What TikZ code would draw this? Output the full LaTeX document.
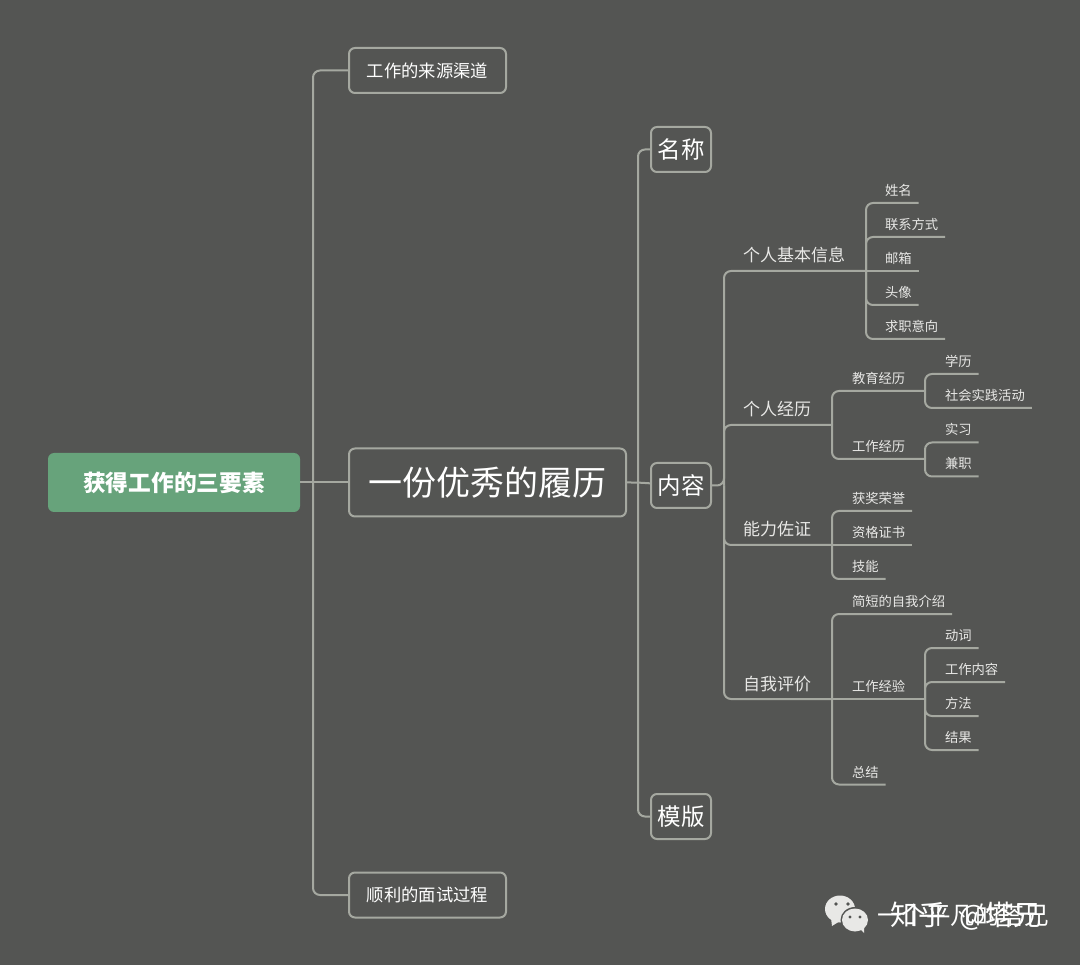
\documentclass[tikz,border=0pt]{standalone}
\usepackage{fontspec}
\setmainfont{Noto Sans CJK SC}
\usepackage{tikz}
\usetikzlibrary{positioning}

\definecolor{bgcolor}{RGB}{84,85,83}
\definecolor{linecolor}{RGB}{165,168,160}
\definecolor{rootgreen}{RGB}{103,163,123}
\definecolor{textcolor}{RGB}{232,232,230}

\begin{document}
\begin{tikzpicture}[
  x=1pt, y=-1pt,
  root/.style={rectangle, rounded corners=6pt, fill=rootgreen, text=white, minimum width=252pt, minimum height=59pt, outer sep=0pt, font=\fontsize{22.7}{26}\selectfont\bfseries},
  topic/.style={rectangle, rounded corners=6pt, draw=linecolor, line width=2pt, text=white, minimum width=157pt, minimum height=45pt, inner sep=0pt, outer sep=0pt, font=\fontsize{17.3}{20}\selectfont},
  part/.style={topic, minimum width=60pt, font=\fontsize{23.5}{27}\selectfont},
  branch/.style={rectangle, anchor=south west, inner xsep=7pt, inner ysep=6pt, outer sep=0pt, text height=14pt, text depth=3pt, text=textcolor, font=\fontsize{17}{20}\selectfont},
  leaf/.style={rectangle, anchor=south west, inner xsep=7pt, inner ysep=5.5pt, outer sep=0pt, text height=11pt, text depth=2pt, text=textcolor, font=\fontsize{13.3}{16}\selectfont},
  nextleaf/.style={leaf, below=10pt of #1.south west, anchor=north west},
  link/.style={draw=linecolor, line width=2pt, rounded corners=7pt}
  ]
  \fill[bgcolor] (0,0) rectangle (1080,965);

  % Main row: root, resume and content
  \node[root] (root) at (174,482.5) {获得工作的三要素};
  \node[topic, minimum width=277pt, minimum height=68pt, font=\fontsize{34}{40}\selectfont, right=49pt of root] (resume) {一份优秀的履历};
  \node[part, right=25pt of resume, yshift=-3pt] (content) {内容};
  \node[topic, above right=355.5pt and 0pt of resume.north west] (source) {工作的来源渠道};
  \node[topic, below right=356pt and 0pt of resume.south west] (interview) {顺利的面试过程};
  \node[part, above=291pt of content] (title) {名称};
  \node[part, below=286pt of content] (template) {模版};
  \coordinate[right=13pt of root.east] (mainhub);
  \coordinate[right=12pt of resume.east] (resumehub);
  \coordinate[right=13pt of content.east] (contenthub);
  \draw[link] (root) -- (resume);
  \draw[link] (mainhub) |- (source);
  \draw[link] (mainhub) |- (interview);
  \draw[link] (resume) -- (resumehub |- resume) -- (content);
  \draw[link] (resumehub) |- (title);
  \draw[link] (resumehub) |- (template);

  % Personal basics
  \node[branch] (basic) at (736,271) {个人基本信息};
  \coordinate (basichub) at (866,271);
  \node[leaf] (name) at (878,203) {姓名};
  \node[nextleaf=name] (contact) {联系方式};
  \node[nextleaf=contact] (mail) {邮箱};
  \node[nextleaf=mail] (photo) {头像};
  \node[nextleaf=photo] (intent) {求职意向};
  \draw[link] (content) -- (contenthub) |- (basichub);
  \draw[link] (basichub) |- (name.south east);
  \draw[link] (basichub) |- (contact.south east);
  \draw[link] (basichub) -- (mail.south east);
  \draw[link] (basichub) |- (photo.south east);
  \draw[link] (basichub) |- (intent.south east);

  % Personal experience
  \node[branch] (history) at (736,425) {个人经历};
  \coordinate (historyhub) at (832,425);
  \node[leaf] (study) at (845,391) {教育经历};
  \node[leaf] (job) at (845,459) {工作经历};
  \coordinate (studyhub) at (925,391);
  \coordinate (jobhub) at (925,459);
  \node[leaf] (degree) at (938,374) {学历};
  \node[nextleaf=degree] (social) {社会实践活动};
  \node[leaf] (intern) at (938,442.5) {实习};
  \node[nextleaf=intern] (parttime) {兼职};
  \draw[link] (contenthub) |- (historyhub);
  \draw[link] (historyhub) |- (studyhub);
  \draw[link] (historyhub) |- (jobhub);
  \draw[link] (studyhub) |- (degree.south east);
  \draw[link] (studyhub) |- (social.south east);
  \draw[link] (jobhub) |- (intern.south east);
  \draw[link] (jobhub) |- (parttime.south east);

  % Proof of ability
  \node[branch] (ability) at (736,545) {能力佐证};
  \coordinate (abilityhub) at (832,545);
  \node[leaf] (award) at (845,511) {获奖荣誉};
  \node[nextleaf=award] (license) {资格证书};
  \node[nextleaf=license] (skill) {技能};
  \draw[link] (contenthub) |- (abilityhub);
  \draw[link] (abilityhub) |- (award.south east);
  \draw[link] (abilityhub) -- (license.south east);
  \draw[link] (abilityhub) |- (skill.south east);

  % Self assessment
  \node[branch] (self) at (736,699) {自我评价};
  \coordinate (selfhub) at (832,699);
  \node[leaf] (intro) at (845,614) {简短的自我介绍};
  \node[leaf] (practice) at (845,699) {工作经验};
  \node[leaf] (summary) at (845,784.5) {总结};
  \coordinate (practicehub) at (925,699);
  \node[leaf] (verb) at (938,648) {动词};
  \node[nextleaf=verb] (duty) {工作内容};
  \node[nextleaf=duty] (method) {方法};
  \node[nextleaf=method] (result) {结果};
  \draw[link] (contenthub) |- (selfhub);
  \draw[link] (selfhub) |- (intro.south east);
  \draw[link] (selfhub) -- (practicehub);
  \draw[link] (selfhub) |- (summary.south east);
  \draw[link] (practicehub) |- (verb.south east);
  \draw[link] (practicehub) |- (duty.south east);
  \draw[link] (practicehub) |- (method.south east);
  \draw[link] (practicehub) |- (result.south east);

  % Watermark
  \fill[textcolor] (840,909) ellipse (15pt and 13.5pt);
  \fill[textcolor] (831,918) -- (832,926) -- (840,921) -- cycle;
  \fill[bgcolor] (855,920) ellipse (14.5pt and 13pt);
  \fill[textcolor] (855,920) ellipse (13pt and 11.5pt);
  \fill[textcolor] (860,929) -- (864,933) -- (864,925) -- cycle;
  \fill[bgcolor] (836,904) circle (1.8pt) (848,904) circle (1.8pt) (850,917) circle (1.6pt) (860,917) circle (1.6pt);
  \node[text=white, font=\fontsize{28}{32}\selectfont] (brand) at (966,916) {知乎\ \ @塔兄};
  \node[text=white, font=\fontsize{24.5}{28}\selectfont] (account) at (963,915) {一个平凡的塔兄};
\end{tikzpicture}
\end{document}
